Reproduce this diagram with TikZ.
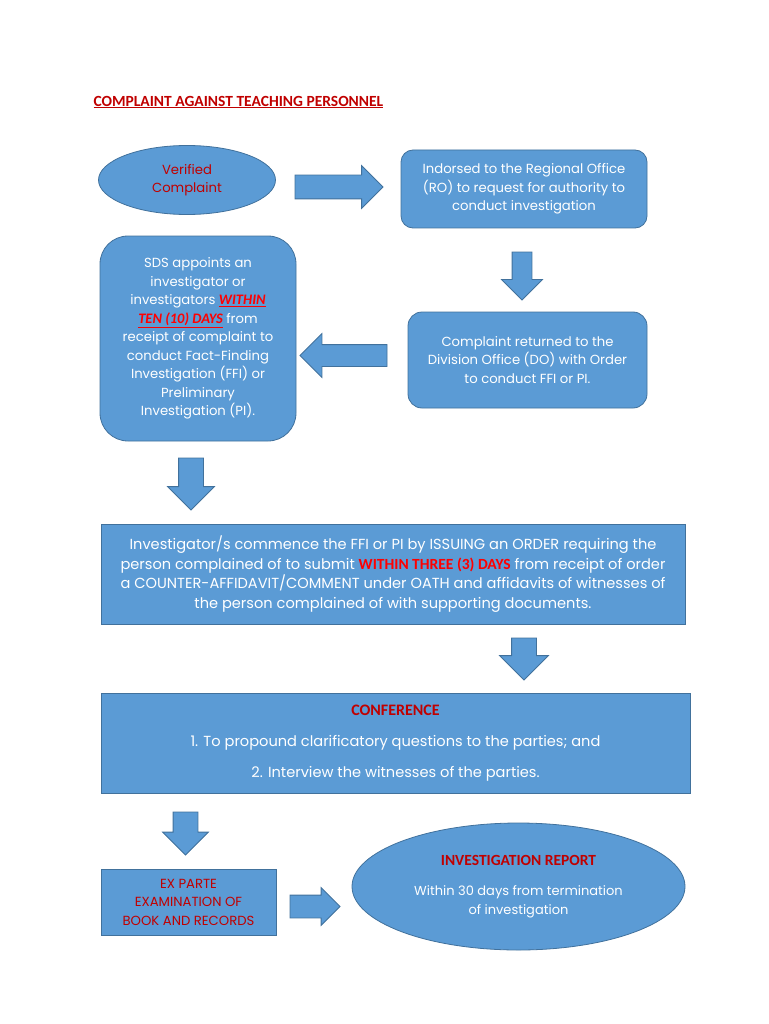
\documentclass[tikz,border=0pt]{standalone}
\usepackage{fontspec}
\setmainfont{Poppins}
\newfontfamily\calfont{Carlito}
\usetikzlibrary{shapes.geometric,shapes.arrows}

\definecolor{boxblue}{RGB}{91,155,213}
\definecolor{boxline}{RGB}{65,113,156}
\definecolor{darkred}{RGB}{192,0,0}
\definecolor{brightred}{RGB}{255,0,0}

\newcommand{\tenalert}[1]{{\calfont\bfseries\itshape\fontsize{14.5}{18.5}\selectfont\color{brightred}\underline{#1}}}

\begin{document}
\begin{tikzpicture}[x=1pt,y=-1pt,
    base/.style={fill=boxblue,draw=boxline,line width=0.8pt,text=white,align=center,
      inner sep=0pt,font=\fontsize{13.2}{18.5}\selectfont},
    roundbox/.style={base,rectangle,rounded corners=#1},
    sqbox/.style={base,rectangle},
    ovalbox/.style={base,ellipse},
    blockarrow/.style n args={3}{single arrow,fill=boxblue,draw=boxline,line width=0.8pt,
      inner sep=0pt,outer sep=0pt,minimum height=#1,inner ysep=#2,
      single arrow head extend=#3,anchor=tail}]
  \useasboundingbox (0,0) rectangle (768,1024);

  \node[anchor=west,text=darkred,font=\calfont\bfseries\fontsize{15.5}{18}\selectfont] (title)
    at (90,102) {\underline{COMPLAINT AGAINST TEACHING PERSONNEL}};

  % first row
  \node[ovalbox,minimum width=177pt,minimum height=69pt,text=darkred] (verified)
    at (187,180) {Verified\\Complaint};
  \node[roundbox=12pt,minimum width=246pt,minimum height=78pt] (ro)
    at (524,189) {Indorsed to the Regional Office\\(RO) to request for authority to\\conduct investigation};

  % second row
  \node[roundbox=28pt,minimum width=196pt,minimum height=205pt] (sds)
    at (198,338.5) {SDS appoints an\\investigator or\\investigators \tenalert{WITHIN}\\\tenalert{TEN (10) DAYS} from\\receipt of complaint to\\conduct Fact-Finding\\Investigation (FFI) or\\Preliminary\\Investigation (PI).};
  \node[roundbox=14pt,minimum width=239pt,minimum height=96pt] (do)
    at (527.5,360) {Complaint returned to the\\Division Office (DO) with Order\\to conduct FFI or PI.};

  % wide boxes
  \node[sqbox,minimum width=584pt,minimum height=100pt,font=\fontsize{14.6}{19.7}\selectfont] (ffi)
    at (393,574) {Investigator/s commence the FFI or PI by ISSUING an ORDER requiring the\\person complained of to submit {\calfont\bfseries\fontsize{15.5}{19.7}\selectfont\color{brightred}WITHIN THREE (3) DAYS} from receipt of order\\a COUNTER-AFFIDAVIT/COMMENT under OATH and affidavits of witnesses of\\the person complained of with supporting documents.};
  \node[sqbox,minimum width=589pt,minimum height=100pt,font=\fontsize{14.6}{31}\selectfont] (conf)
    at (395.5,743) {{\calfont\bfseries\fontsize{16}{31}\selectfont\color{darkred}CONFERENCE}\\1. To propound clarificatory questions to the parties; and\\2. Interview the witnesses of the parties.};

  % last row
  \node[sqbox,minimum width=175pt,minimum height=66pt,text=darkred] (exparte)
    at (188.5,902) {EX PARTE\\EXAMINATION OF\\BOOK AND RECORDS};
  \node[ovalbox,minimum width=333pt,minimum height=127pt,font=\fontsize{13}{19}\selectfont] (report)
    at (518.5,886.5) {{\calfont\bfseries\fontsize{15.5}{19}\selectfont\color{darkred}INVESTIGATION REPORT}\\[11pt]Within 30 days from termination\\of investigation};

  % block arrows
  \node[blockarrow={88pt}{11.5pt}{9.5pt}] (a1) at (295,187) {};
  \node[blockarrow={48pt}{9.5pt}{10.5pt},rotate=-90] (a2) at (522,252) {};
  \node[blockarrow={87pt}{10.5pt}{11pt},rotate=180] (a3) at (387,355.5) {};
  \node[blockarrow={52pt}{12pt}{11pt},rotate=-90] (a4) at (191,458) {};
  \node[blockarrow={42pt}{12pt}{12pt},rotate=-90] (a5) at (524,638) {};
  \node[blockarrow={43pt}{12pt}{10.5pt},rotate=-90] (a6) at (185.5,812) {};
  \node[blockarrow={50pt}{11pt}{7.5pt}] (a7) at (290,906.5) {};
\end{tikzpicture}
\end{document}
